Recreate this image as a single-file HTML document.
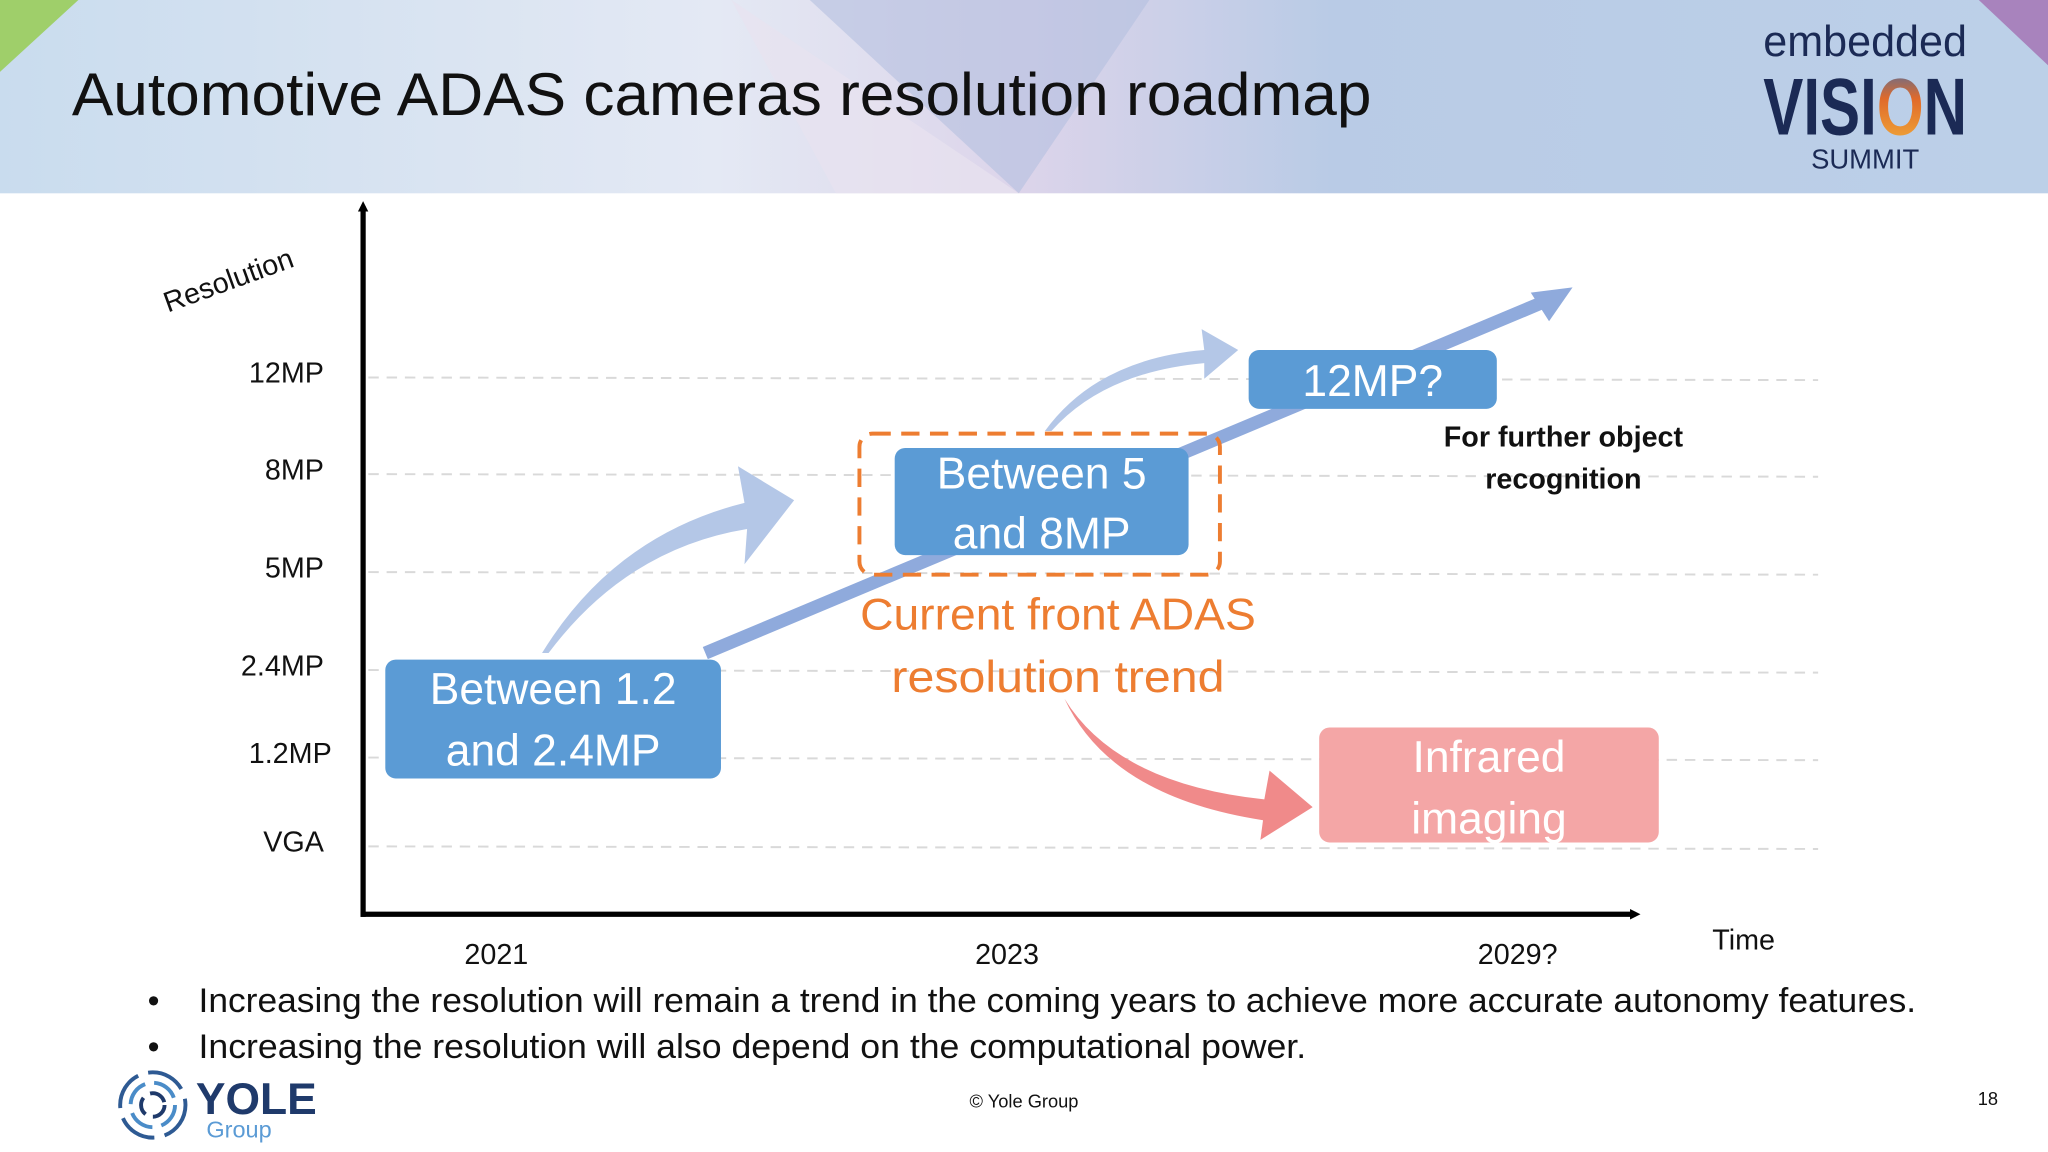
<!DOCTYPE html>
<html><head><meta charset="utf-8"><style>
html,body{margin:0;padding:0;background:#fff;}
svg{display:block;}
text{font-family:"Liberation Sans",sans-serif;}
</style></head><body>
<svg id="chart" width="2048" height="1152" viewBox="0 0 1568 882" xmlns="http://www.w3.org/2000/svg">
<defs>
<linearGradient id="hdr" x1="0" y1="0" x2="1" y2="0">
<stop offset="0" stop-color="#c9dcee"/><stop offset="0.35" stop-color="#e4e9f4"/><stop offset="0.5" stop-color="#dcd4ea"/><stop offset="0.65" stop-color="#b9cbe6"/><stop offset="1" stop-color="#bcd0e8"/>
</linearGradient>
<linearGradient id="vo" x1="0" y1="0" x2="0" y2="1"><stop offset="0" stop-color="#3b6fb0"/><stop offset="0.4" stop-color="#e06a2a"/><stop offset="1" stop-color="#f3b23a"/></linearGradient>
<marker id="ah" markerWidth="8" markerHeight="8" refX="4" refY="4" orient="auto" markerUnits="userSpaceOnUse"><path d="M0,0 L8,4 L0,8 z" fill="#000"/></marker>
</defs>
<g>
<rect x="0" y="0" width="1568" height="148" fill="url(#hdr)"/>
<polygon points="0,0 60,0 0,55" fill="#9fcf6a"/>
<polygon points="560,0 780,148 640,148" fill="#e8e2f0" opacity="0.7"/>
<polygon points="620,0 780,148 880,0" fill="#b4bfdf" opacity="0.6"/>
<polygon points="1515,0 1568,0 1568,50" fill="#a883bd"/>
<text x="55" y="88" font-size="46" fill="#111" textLength="995" lengthAdjust="spacingAndGlyphs">Automotive ADAS cameras resolution roadmap</text>
<g>
<text x="1428" y="43" font-size="33" fill="#1b2a55" text-anchor="middle">embedded</text>
<text x="1428" y="103" font-size="62" font-weight="bold" fill="#1b2a55" text-anchor="middle" textLength="156" lengthAdjust="spacingAndGlyphs">VISI<tspan fill="url(#vo)">O</tspan>N</text>
<text x="1428" y="129" font-size="21" fill="#1b2a55" text-anchor="middle">SUMMIT</text>
</g>
</g>
<g id="axes"></g>
<g id="marks"></g>
<g font-size="26" fill="#111">
<text x="113" y="775">•</text><text x="152" y="775" textLength="1315" lengthAdjust="spacingAndGlyphs">Increasing the resolution will remain a trend in the coming years to achieve more accurate autonomy features.</text>
<text x="113" y="810">•</text><text x="152" y="810" textLength="848" lengthAdjust="spacingAndGlyphs">Increasing the resolution will also depend on the computational power.</text>
</g>
<g>
<circle cx="117" cy="846" r="25" fill="none" stroke="#2e5a93" stroke-width="3" stroke-dasharray="30 8"/>
<circle cx="117" cy="846" r="17" fill="none" stroke="#4a8cc8" stroke-width="3" stroke-dasharray="20 7"/>
<circle cx="117" cy="846" r="9" fill="none" stroke="#1f3a6b" stroke-width="3" stroke-dasharray="14 6"/>
<text x="150" y="853" font-size="34" font-weight="bold" fill="#1f3a6b">YOLE</text>
<text x="158" y="871" font-size="18" fill="#5b9bd5">Group</text>
</g>
<text x="784" y="848" font-size="14" text-anchor="middle" fill="#111">© Yole Group</text>
<text x="1522" y="846" font-size="14" text-anchor="middle" fill="#111">18</text>
</svg>
<script>
const yCategories=["VGA","1.2MP","2.4MP","5MP","8MP","12MP"];
const xCategories=["2021","2023","2029?"];
const xIndex=[0,1,2];
const gridY=[648,580,513,438,363,289];
const NS="http://www.w3.org/2000/svg";
function yPos(i){return gridY[i];}
function xPos(i){return 380+i*391;}
function mk(tag,attrs,parent,txt){const e=document.createElementNS(NS,tag);for(const k in attrs)e.setAttribute(k,attrs[k]);if(txt!==undefined)e.textContent=txt;parent.appendChild(e);return e;}
const axes=document.getElementById('axes');
yCategories.forEach((c,i)=>{
 const g=mk('line',{x1:282,x2:1392,y1:yPos(i),y2:yPos(i)+2,stroke:'#d9d9d9','stroke-width':1.5,'stroke-dasharray':'8 6'},axes);
 
 
 const t=mk('text',{x:c==='1.2MP'?254:248,y:yPos(i)+4,'font-size':22,'text-anchor':'end',fill:'#111'},axes,c);
 
 
});
xIndex.forEach(i=>{
 const t=mk('text',{x:xPos(i),y:738,'font-size':22,'text-anchor':'middle',fill:'#111'},axes,xCategories[i]);
 
 
});
let l=mk('line',{x1:278,y1:702,x2:278,y2:158,stroke:'#000','stroke-width':4,'marker-end':'url(#ah)'},axes);


l=mk('line',{x1:276,y1:700,x2:1252,y2:700,stroke:'#000','stroke-width':4,'marker-end':'url(#ah)'},axes);


let t=mk('text',{x:175,y:222,'font-size':22,'text-anchor':'middle',fill:'#111',transform:'rotate(-20 175 215)'},axes,'Resolution');


t=mk('text',{x:1335,y:727,'font-size':22,'text-anchor':'middle',fill:'#111'},axes,'Time');



const m=document.getElementById('marks');
let p=mk('path',{d:'M540,500 L1180,232',stroke:'#8faadc','stroke-width':10,fill:'none'},m);


p=mk('polygon',{points:'1204,220 1172,224 1186,246',fill:'#8faadc'},m);


p=mk('path',{d:'M415,500 Q470,410 570,385 L565,357 L608,383 L570,432 L572,405 Q480,420 420,500 Z',fill:'#b4c7e7'},m);


p=mk('path',{d:'M800,330 Q840,275 922,268 L920,252 L948,268 L922,290 L922,278 Q845,285 805,330 Z',fill:'#b4c7e7'},m);


p=mk('path',{d:'M815,535 Q855,600 968,612 L972,590 L1005,618 L965,643 L967,628 Q850,610 815,535 Z',fill:'#f08a8a'},m);


function box(x,y,w,h,fill,lines,name,fs,ly){
 const r=mk('rect',{x:x,y:y,width:w,height:h,rx:8,fill:fill},m);
 
 
 lines.forEach((s,i)=>{const tt=mk('text',{x:x+w/2,y:ly[i],'font-size':fs,'text-anchor':'middle',fill:'#fff'},m,s);
  
  });
}
box(295,505,257,91,'#5b9bd5',['Between 1.2','and 2.4MP'],'box-1-2-to-2-4mp',34,[539,586]);
p=mk('rect',{x:658,y:332,width:276,height:108,rx:10,fill:'none',stroke:'#ed7d31','stroke-width':3,'stroke-dasharray':'14 8'},m);


box(685,343,225,82,'#5b9bd5',['Between 5','and 8MP'],'box-5-to-8mp',34,[374,420]);
box(956,268,190,45,'#5b9bd5',['12MP?'],'box-12mp',34,[303]);
box(1010,557,260,88,'#f4a6a6',['Infrared','imaging'],'box-infrared',34,[591,638]);
[['Current front ADAS',482,303],['resolution trend',530,255]].forEach(a=>{const tt=mk('text',{x:810,y:a[1],'font-size':34,'text-anchor':'middle',fill:'#ed7d31',textLength:a[2],lengthAdjust:'spacingAndGlyphs'},m,a[0]);
 
 });
[['For further object',342],['recognition',374]].forEach(a=>{const tt=mk('text',{x:1197,y:a[1],'font-size':22,'font-weight':'bold','text-anchor':'middle',fill:'#111'},m,a[0]);
 
 });
</script>
</body></html>
